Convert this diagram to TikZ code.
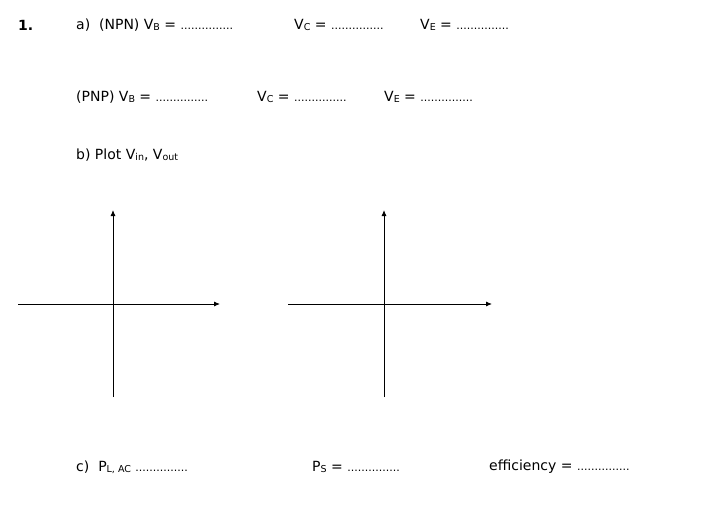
\documentclass[tikz,border=0pt]{standalone}
\usepackage{fontspec}
\setmainfont{DejaVu Sans}
\usetikzlibrary{arrows.meta}
\newcommand{\subtx}[1]{\raisebox{-0.1ex}{\fontsize{9.5}{10}\selectfont #1}}
\newcommand{\dts}{{\fontsize{11}{12}\selectfont ...............}}
\begin{document}
\begin{tikzpicture}[x=1pt,y=-1pt,
  txt/.style={anchor=west,inner sep=0pt,font=\fontsize{14}{16}\selectfont},
  ax/.style={line width=0.9pt,-{Latex[length=6pt,width=5pt]}}]
\useasboundingbox (0,0) rectangle (718,511);
\node[txt,font=\bfseries\fontsize{14}{16}\selectfont] (one) at (18,25) {1.};
\node[txt] (a) at (76,25) {a)\ \ (NPN) V\subtx{B} = \dts};
\node[txt] (avc) at (294,25) {V\subtx{C} = \dts};
\node[txt] (ave) at (420,25) {V\subtx{E} = \dts};
\node[txt] (p) at (76,97) {(PNP) V\subtx{B} = \dts};
\node[txt] (pvc) at (257,97) {V\subtx{C} = \dts};
\node[txt] (pve) at (384,97) {V\subtx{E} = \dts};
\node[txt] (b) at (76,155) {b) Plot V\subtx{in}, V\subtx{out}};
\coordinate (v1b) at (113,397); \coordinate (v1t) at (113,210);
\coordinate (h1l) at (18,304); \coordinate (h1r) at (220,304);
\coordinate (v2b) at (384,397); \coordinate (v2t) at (384,210);
\coordinate (h2l) at (288,304); \coordinate (h2r) at (492,304);
\draw[ax] (v1b) -- (v1t);
\draw[ax] (h1l) -- (h1r);
\draw[ax] (v2b) -- (v2t);
\draw[ax] (h2l) -- (h2r);
\node[txt] (c) at (76,467) {c)\ \ P\subtx{L, AC} \dts};
\node[txt] (ps) at (312,467) {P\subtx{S} = \dts};
\node[txt] (eff) at (489,467) {efficiency = \dts};
\end{tikzpicture}
\end{document}
